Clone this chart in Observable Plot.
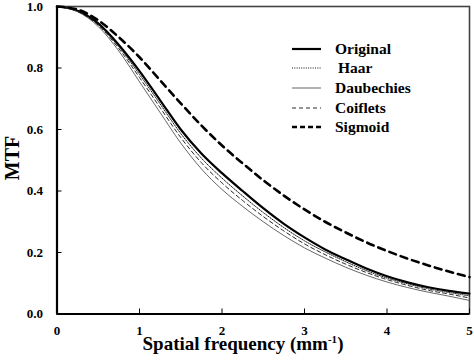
<!DOCTYPE html>
<html>
<head>
<meta charset="utf-8">
<script src="https://cdn.jsdelivr.net/npm/d3@7"></script>
<script src="https://cdn.jsdelivr.net/npm/@observablehq/plot@0.6"></script>
<style>
  body { margin: 0; background: #fff; }
  #wrap { position: relative; width: 474px; height: 362px; overflow: hidden; }
  #legend { position: absolute; left: 290px; top: 39px; font-family: "Liberation Serif", "Times New Roman", serif; font-weight: bold; font-size: 15.5px; color: #000; }
  .row { display: flex; align-items: center; height: 19.6px; }
  .row svg { width: 32px; height: 10px; margin-right: 13px; }
</style>
</head>
<body>
<div id="wrap"><div id="legend"></div></div>
<script>
// Spatial frequency (mm^-1)
const freq = [0, 0.25, 0.5, 0.75, 1.0, 1.25, 1.5, 1.75, 2.0, 2.25, 2.5, 2.75, 3.0, 3.25, 3.5, 3.75, 4.0, 4.25, 4.5, 4.75, 5.0];
// MTF values per series
const original   = [1, 0.986, 0.945, 0.875, 0.790, 0.695, 0.600, 0.522, 0.458, 0.400, 0.344, 0.293, 0.249, 0.210, 0.178, 0.148, 0.123, 0.103, 0.087, 0.075, 0.066];
const haar       = [1, 0.985, 0.942, 0.869, 0.779, 0.683, 0.587, 0.507, 0.442, 0.384, 0.330, 0.281, 0.238, 0.202, 0.170, 0.141, 0.117, 0.098, 0.082, 0.070, 0.059];
const coiflets   = [1, 0.984, 0.939, 0.863, 0.769, 0.671, 0.574, 0.492, 0.426, 0.369, 0.317, 0.270, 0.228, 0.193, 0.162, 0.135, 0.112, 0.093, 0.077, 0.065, 0.052];
const daubechies = [1, 0.983, 0.935, 0.855, 0.755, 0.655, 0.556, 0.472, 0.405, 0.350, 0.300, 0.255, 0.215, 0.182, 0.152, 0.126, 0.104, 0.086, 0.071, 0.058, 0.044];
const sigmoid    = [1, 0.990, 0.955, 0.900, 0.835, 0.760, 0.685, 0.613, 0.548, 0.490, 0.435, 0.385, 0.340, 0.300, 0.265, 0.233, 0.205, 0.180, 0.158, 0.138, 0.120];

const seriesNames = ["Original", "Haar", "Daubechies", "Coiflets", "Sigmoid"];
const xTicks = [0, 1, 2, 3, 4, 5];
const yTicks = [0, 0.2, 0.4, 0.6, 0.8, 1.0];

const valuesByName = {Original: original, Haar: haar, Daubechies: daubechies, Coiflets: coiflets, Sigmoid: sigmoid};
const styles = {
  Original:   {stroke: "#000", strokeWidth: 2.2},
  Haar:       {stroke: "#111", strokeWidth: 1, strokeDasharray: "1,1.3"},
  Daubechies: {stroke: "#555", strokeWidth: 0.9},
  Coiflets:   {stroke: "#111", strokeWidth: 0.9, strokeDasharray: "4,3"},
  Sigmoid:    {stroke: "#000", strokeWidth: 2.6, strokeDasharray: "7,5"}
};

const lineMarks = seriesNames.map(name => {
  const rows = freq.map((f, i) => ({f, v: valuesByName[name][i]}));
  return Plot.line(rows, {x: "f", y: "v", curve: "monotone-x", ...styles[name]});
});

const noText = () => "";

const chart = Plot.plot({
  width: 474,
  height: 362,
  marginLeft: 56.5,
  marginRight: 5,
  marginTop: 6,
  marginBottom: 48.5,
  x: {domain: [0, 5]},
  y: {domain: [0, 1]},
  style: {fontFamily: "'Liberation Serif', 'Times New Roman', serif", fontWeight: "bold", fontSize: "13px", color: "#000", background: "#fff"},
  marks: [
    Plot.frame({stroke: "#444", strokeWidth: 1.6}),
    // tick labels
    Plot.axisY({ticks: yTicks, tickFormat: d3.format(".1f"), tickSize: 0, tickPadding: 14, label: null}),
    Plot.axisX({ticks: xTicks, tickFormat: d3.format("d"), tickSize: 0, tickPadding: 12, label: null}),
    // inward tick marks
    Plot.axisY({ticks: yTicks, tickFormat: noText, tickSize: -5, label: null}),
    Plot.axisX({ticks: xTicks, tickFormat: noText, tickSize: -5, label: null}),
    ...lineMarks,
    Plot.ruleX([0], {strokeWidth: 2.2}),
    Plot.ruleY([0], {strokeWidth: 2.2})
  ]
});

document.getElementById("wrap").prepend(chart);

// Axis titles
const svg = d3.select(chart);
const xt = svg.append("text")
  .attr("x", 243).attr("y", 350)
  .attr("text-anchor", "middle")
  .style("font-size", "19px").style("font-weight", "bold").attr("fill", "#000");
xt.append("tspan").text("Spatial frequency (mm");
xt.append("tspan").attr("dy", -7).style("font-size", "11px").text("-1");
xt.append("tspan").attr("dy", 7).text(")");

svg.append("text")
  .attr("transform", "translate(19,158) rotate(-90)")
  .attr("text-anchor", "middle")
  .style("font-size", "20px").style("font-weight", "bold").attr("fill", "#000")
  .text("MTF");

// Legend
const legend = d3.select("#legend");
seriesNames.forEach(name => {
  const s = styles[name];
  const row = legend.append("div").attr("class", "row");
  const sv = row.append("svg");
  sv.append("line").attr("x1", 2).attr("x2", 31).attr("y1", 5).attr("y2", 5)
    .attr("stroke", s.stroke).attr("stroke-width", s.strokeWidth)
    .attr("stroke-dasharray", name === "Sigmoid" ? "5,3" : (s.strokeDasharray || null));
  row.append("span").style("margin-left", name === "Haar" ? "3px" : "0px").text(name);
});
</script>
</body>
</html>
